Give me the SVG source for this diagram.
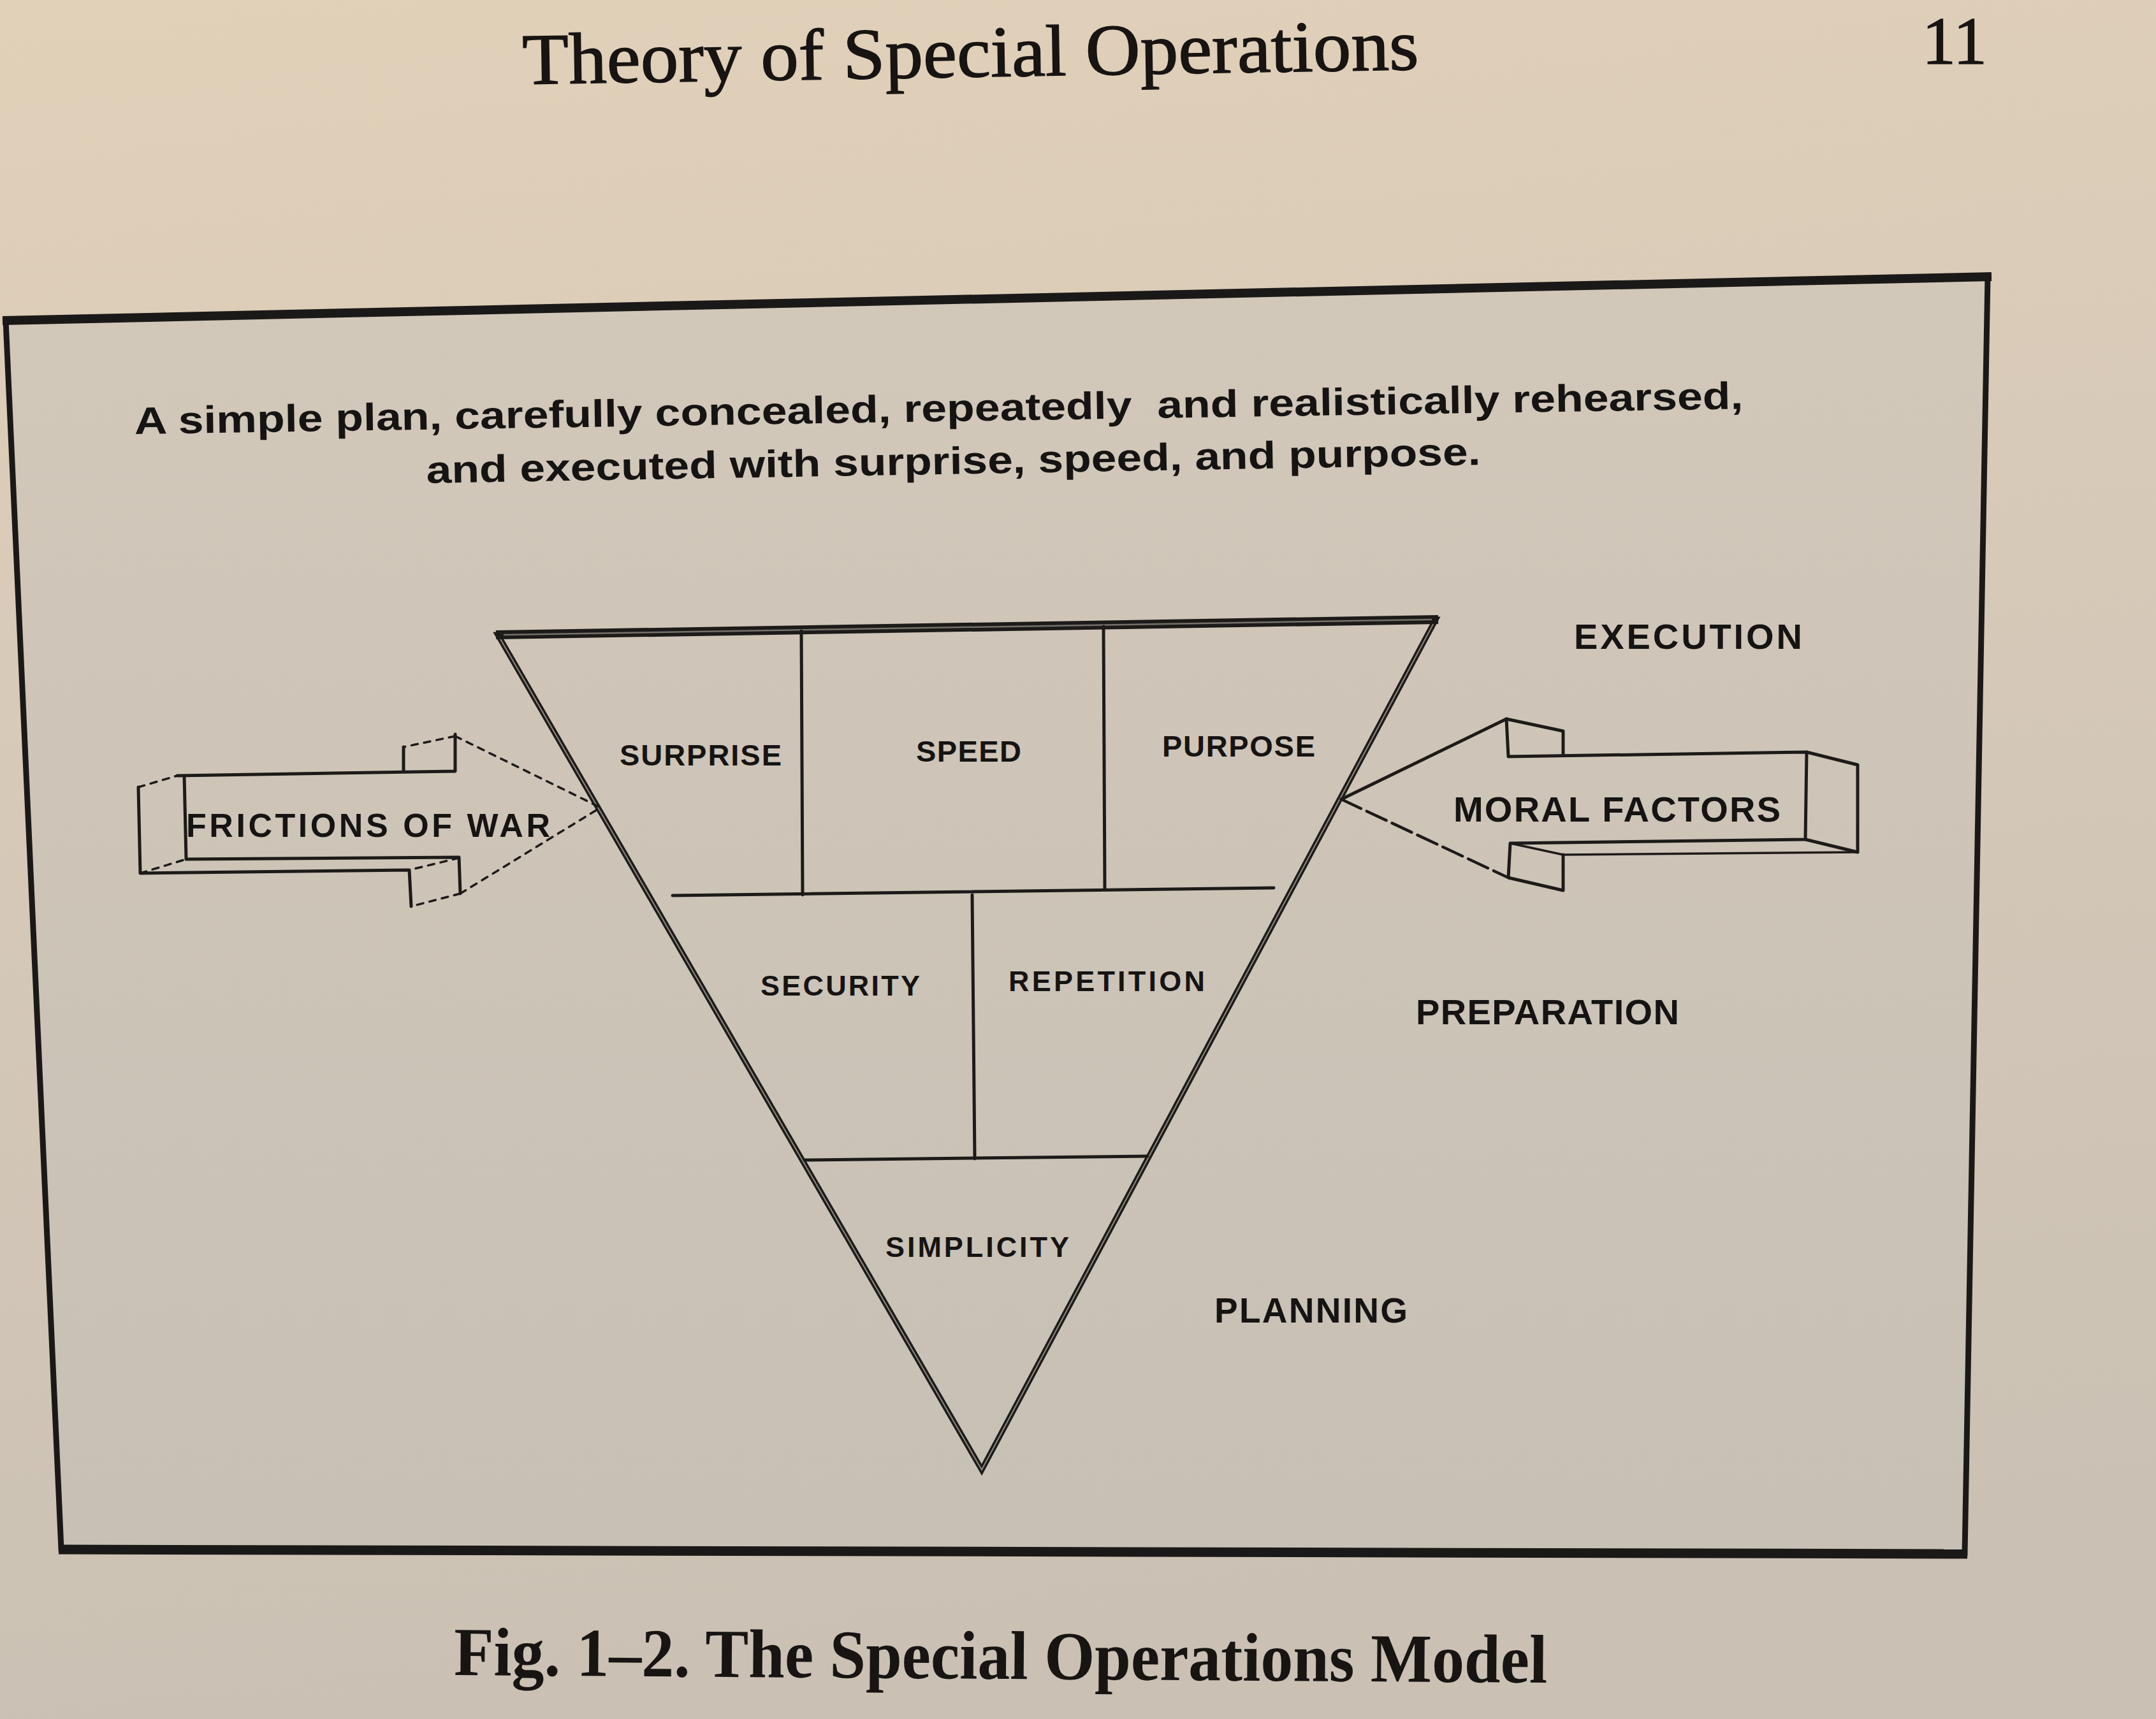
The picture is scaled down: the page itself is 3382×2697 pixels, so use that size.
<svg xmlns="http://www.w3.org/2000/svg" width="3382" height="2697" viewBox="0 0 3382 2697">
<defs>
<linearGradient id="page" x1="0" y1="0" x2="0.15" y2="1">
<stop offset="0" stop-color="#e2d1b9"/>
<stop offset="0.45" stop-color="#d6c9b8"/>
<stop offset="1" stop-color="#cac1b4"/>
</linearGradient>
<linearGradient id="boxfill" x1="0" y1="0" x2="0" y2="1">
<stop offset="0" stop-color="#d2c8ba"/>
<stop offset="1" stop-color="#c7c0b5"/>
</linearGradient>
<style>
.ln{stroke:#1d1b19;fill:none;stroke-linecap:round;stroke-linejoin:round;stroke-width:5}
.thin{stroke-width:3.5}
.dash{stroke-dasharray:10 10;stroke-width:3.5}
.ldash{stroke-dasharray:34 10;stroke-width:4.5}
.lbl{font-family:"Liberation Sans",Arial,Helvetica,sans-serif;font-weight:bold;fill:#161412}
.serif{font-family:"Liberation Serif","Times New Roman",serif;fill:#171412}
</style>
</defs>

<rect id="background" x="0" y="0" width="3382" height="2697" fill="url(#page)"/>

<g id="page-header">
<text class="serif" x="820" y="132" font-size="114" textLength="1406" lengthAdjust="spacingAndGlyphs" stroke="#171412" stroke-width="1.5" transform="rotate(-0.94 820 132)">Theory of Special Operations</text>
<text class="serif" x="3015" y="100" font-size="106" textLength="102" lengthAdjust="spacingAndGlyphs" stroke="#171412" stroke-width="1.5">11</text>
</g>

<g id="frame">
<polygon points="9,503 3118,434 3082,2437 96,2430" fill="url(#boxfill)" stroke="#1b1917" stroke-width="9" stroke-linejoin="miter"/>
<line x1="4" y1="503" x2="3124" y2="434" stroke="#1b1917" stroke-width="14"/>
<line x1="92" y1="2431" x2="3086" y2="2438" stroke="#1b1917" stroke-width="15"/>
</g>

<g id="motto">
<text class="lbl" x="211" y="681" font-size="60" textLength="2524" lengthAdjust="spacingAndGlyphs" xml:space="preserve" transform="rotate(-0.9 211 681)">A simple plan, carefully concealed, repeatedly  and realistically rehearsed,</text>
<text class="lbl" x="669" y="758" font-size="60" textLength="1654" lengthAdjust="spacingAndGlyphs" transform="rotate(-1.0 669 758)">and executed with surprise, speed, and purpose.</text>
</g>

<g id="triangle">
<polygon points="781,996 2252,972 1540,2306" fill="none" stroke="#1d1b19" stroke-width="9" stroke-linejoin="miter"/>
<polygon points="781,996 2252,972 1540,2306" fill="none" stroke="#8d877f" stroke-width="2" stroke-linejoin="miter"/>
<line x1="778" y1="996" x2="2256" y2="972" stroke="#1d1b19" stroke-width="14"/>
<line x1="790" y1="996" x2="2246" y2="972" stroke="#77716a" stroke-width="2.5"/>
</g>

<g id="connectors">
<line class="ln" x1="1257" y1="990" x2="1259" y2="1404"/>
<line class="ln" x1="1731" y1="983" x2="1733" y2="1395"/>
<line class="ln" x1="1055" y1="1405" x2="1998" y2="1393"/>
<line class="ln" x1="1525" y1="1404" x2="1529" y2="1818"/>
<line class="ln" x1="1262" y1="1820" x2="1800" y2="1814"/>
</g>

<g id="node-surprise"><text class="lbl" x="972" y="1201" font-size="47" textLength="254" lengthAdjust="spacing">SURPRISE</text></g>
<g id="node-speed"><text class="lbl" x="1437" y="1195" font-size="47" textLength="165" lengthAdjust="spacing">SPEED</text></g>
<g id="node-purpose"><text class="lbl" x="1823" y="1187" font-size="47" textLength="240" lengthAdjust="spacing">PURPOSE</text></g>
<g id="node-security"><text class="lbl" x="1193" y="1562" font-size="45" textLength="250" lengthAdjust="spacing">SECURITY</text></g>
<g id="node-repetition"><text class="lbl" x="1582" y="1555" font-size="45" textLength="308" lengthAdjust="spacing">REPETITION</text></g>
<g id="node-simplicity"><text class="lbl" x="1389" y="1972" font-size="45" textLength="288" lengthAdjust="spacing">SIMPLICITY</text></g>

<g id="node-execution"><text class="lbl" x="2469" y="1018" font-size="56" textLength="358" lengthAdjust="spacing">EXECUTION</text></g>
<g id="node-preparation"><text class="lbl" x="2221" y="1607" font-size="56" textLength="413" lengthAdjust="spacing">PREPARATION</text></g>
<g id="node-planning"><text class="lbl" x="1905" y="2075" font-size="55" textLength="303" lengthAdjust="spacing">PLANNING</text></g>

<g id="arrow-frictions">
<polyline class="ln" points="278,1217 714,1210 714,1152"/>
<line class="ln" x1="633" y1="1172" x2="633" y2="1208"/>
<line class="ln" x1="289" y1="1218" x2="292" y2="1348"/>
<polyline class="ln" points="292,1348 720,1345 722,1402"/>
<polyline class="ln" points="645,1422 642,1365 220,1370 217,1235"/>
<line class="ln dash" x1="714" y1="1155" x2="633" y2="1172"/>
<line class="ln dash" x1="722" y1="1402" x2="645" y2="1422"/>
<line class="ln dash" x1="720" y1="1346" x2="642" y2="1365"/>
<line class="ln dash" x1="217" y1="1235" x2="278" y2="1217"/>
<line class="ln dash" x1="220" y1="1370" x2="292" y2="1348"/>
<line class="ln dash" x1="714" y1="1155" x2="942" y2="1267"/>
<line class="ln dash" x1="722" y1="1402" x2="942" y2="1267"/>
<text class="lbl" x="292" y="1313" font-size="52" textLength="571" lengthAdjust="spacing">FRICTIONS OF WAR</text>
</g>

<g id="arrow-moral">
<line class="ln" x1="2104" y1="1254" x2="2363" y2="1128"/>
<polyline class="ln" points="2363,1128 2452,1147 2452,1183"/>
<polyline class="ln" points="2363,1128 2366,1187 2834,1180 2832,1317 2369,1323 2366,1377 2452,1397 2452,1341"/>
<polyline class="ln" points="2834,1180 2914,1200 2914,1337 2832,1317"/>
<polyline class="ln thin" points="2369,1323 2452,1341 2914,1337"/>
<line class="ln ldash" x1="2104" y1="1254" x2="2366" y2="1377"/>
<text class="lbl" x="2280" y="1289" font-size="56" textLength="513" lengthAdjust="spacing">MORAL FACTORS</text>
</g>

<g id="caption">
<text class="serif" x="712" y="2628" font-size="108" font-weight="bold" textLength="1715" lengthAdjust="spacingAndGlyphs" transform="rotate(0.4 712 2628)">Fig. 1–2. The Special Operations Model</text>
</g>
</svg>
